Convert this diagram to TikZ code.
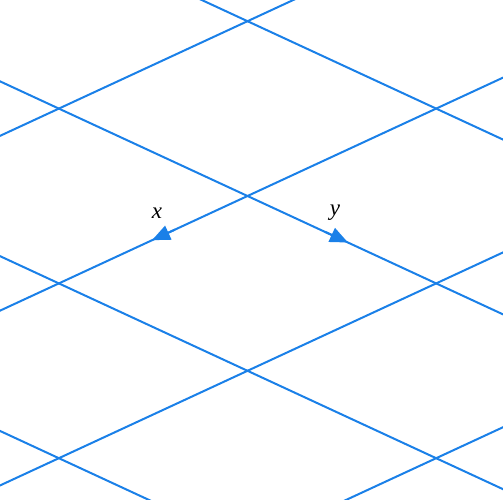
\documentclass[tikz,border=0pt]{standalone}
\usepackage{fontspec}
\setmainfont{Liberation Serif}
\usetikzlibrary{arrows.meta}
\definecolor{latblue}{RGB}{26,128,232}
\begin{document}
\begin{tikzpicture}[x=1pt,y=-1pt,
  latline/.style={draw=latblue,line width=2pt},
  arr/.style={draw=latblue,fill=latblue,line width=2pt,-{Triangle[length=18pt,width=15pt]}},
  lbl/.style={font=\fontsize{23}{26}\selectfont\itshape,inner sep=0pt}]
\useasboundingbox (0,0) rectangle (503,500);
\begin{scope}
\clip (0,0) rectangle (503,500);
% rising lines
\coordinate (a1s) at (-10,140.5); \coordinate (a1e) at (513,-101.8);
\coordinate (a2s) at (-10,315.3); \coordinate (a2e) at (513,73.0);
\coordinate (a3s) at (-10,490.1); \coordinate (a3e) at (513,247.8);
\coordinate (a4s) at (-10,664.9); \coordinate (a4e) at (513,422.6);
% falling lines
\coordinate (b1s) at (-10,-98.1); \coordinate (b1e) at (513,144.2);
\coordinate (b2s) at (-10,76.7);  \coordinate (b2e) at (513,319.0);
\coordinate (b3s) at (-10,251.5); \coordinate (b3e) at (513,493.8);
\coordinate (b4s) at (-10,426.3); \coordinate (b4e) at (513,668.6);
\foreach \n in {a1,a2,a3,a4,b1,b2,b3,b4}{
  \draw[latline] (\n s) -- (\n e);
}
\end{scope}
% arrows
\coordinate (xa) at (175,229.6);
\coordinate (xt) at (152,240.2);
\coordinate (ya) at (325,231.8);
\coordinate (yt) at (348,242.5);
\draw[arr] (xa) -- (xt);
\draw[arr] (ya) -- (yt);
\node[lbl] (xl) at (157,213) {x};
\node[lbl] (yl) at (335,213) {y};
\end{tikzpicture}
\end{document}
